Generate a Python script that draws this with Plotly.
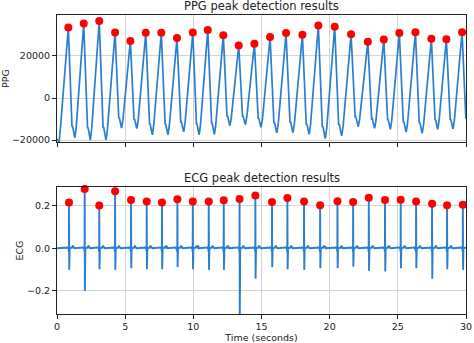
import numpy as np
import plotly.graph_objects as go

# ---- PPG: detected peaks (time in s, amplitude) and the trough that follows each peak
ppg_peak_t = [0.83, 1.96, 3.10, 4.26, 5.38, 6.51, 7.65, 8.80, 9.96, 11.06, 12.20, 13.33, 14.48,
              15.63, 16.80, 18.00, 19.17, 20.37, 21.57, 22.80, 23.97, 25.11, 26.29, 27.46, 28.56, 29.71]
ppg_peak_v = [33500, 35400, 36700, 31200, 27100, 31000, 31000, 28500, 31200, 32400, 29900, 25000, 25800,
              29000, 30900, 30100, 34500, 33900, 30400, 26800, 27900, 30900, 31300, 28200, 28000, 31300]
ppg_trough_v = [-19000, -20000, -20000, -14300, -14600, -17500, -17500, -16200, -17500, -17300, -13200, -12700, -14000,
                -16600, -16500, -17300, -19300, -18000, -13700, -14400, -14900, -16300, -16800, -14900, -14700, -14400]
ppg_start_v = [-19500, -20800]

# ---- ECG: R-peak times, R amplitudes and S-wave depths
ecg_peak_t = [0.88, 2.03, 3.10, 4.26, 5.43, 6.58, 7.70, 8.83, 9.96, 11.13, 12.23, 13.39, 14.55,
              15.77, 16.90, 18.12, 19.30, 20.57, 21.72, 22.87, 24.06, 25.21, 26.34, 27.51, 28.61, 29.77]
ecg_peak_v = [0.215, 0.279, 0.201, 0.268, 0.227, 0.220, 0.216, 0.231, 0.220, 0.220, 0.226, 0.232, 0.249,
              0.218, 0.237, 0.220, 0.202, 0.221, 0.218, 0.238, 0.227, 0.229, 0.220, 0.210, 0.202, 0.205]
ecg_s_v = [-0.102, -0.201, -0.099, -0.102, -0.094, -0.099, -0.099, -0.089, -0.099, -0.102, -0.102, -0.330, -0.144,
           -0.089, -0.099, -0.102, -0.094, -0.094, -0.087, -0.106, -0.110, -0.094, -0.094, -0.144, -0.099, -0.102]
# small baseline artefacts (time, amplitude)
ecg_art_t = [8.05, 10.37, 12.57, 19.70, 20.80]
ecg_art_v = [0.012, 0.014, 0.012, 0.010, 0.010]

T_END = 30.0


def ppg_waveform():
    """Piecewise beat shape: sharp top, quick fall, dicrotic shoulder, trough, slower upstroke."""
    kt = [0.0, 0.15]
    kv = list(ppg_start_v)
    n = len(ppg_peak_t)
    for i in range(n):
        tp, P, T = ppg_peak_t[i], ppg_peak_v[i], ppg_trough_v[i]
        d = (ppg_peak_t[i + 1] - tp) if i + 1 < n else 1.15
        A = P - T
        if i == 0:
            P0 = P
            T0 = kv[-1]
            kt += [tp - 0.55 * d, tp - 0.07 * d]
            kv += [T0 + 0.05 * (P0 - T0), P0 - 0.12 * (P0 - T0)]
        kt += [tp, tp + 0.04 * d, tp + 0.20 * d, tp + 0.24 * d, tp + 0.28 * d, tp + 0.36 * d, tp + 0.42 * d]
        kv += [P, P - 0.15 * A, T + 0.13 * A, T + 0.10 * A, T + 0.11 * A, T + 0.04 * A, T]
        if i + 1 < n:
            Pn = ppg_peak_v[i + 1]
            kt += [tp + 0.49 * d, tp + 0.93 * d]
            kv += [T + 0.05 * (Pn - T), Pn - 0.12 * (Pn - T)]
    t = np.arange(0.0, T_END + 1e-9, 0.01)
    return t, np.interp(t, kt, kv)


def ecg_waveform():
    """P wave, QRS complex and T wave placed at each R-peak."""
    kt, kv = [0.0], [0.0]
    for tr, R, S in zip(ecg_peak_t, ecg_peak_v, ecg_s_v):
        offs = [-0.17, -0.13, -0.09, -0.03, -0.014, -0.006, 0.0, 0.008, 0.016, 0.028, 0.045, 0.20, 0.28, 0.36]
        vals = [0.0, 0.007, 0.0, 0.0, -0.016, 0.012, R, 0.0, S, 0.014, 0.0, 0.0, 0.012, 0.0]
        kt += [tr + o for o in offs]
        kv += vals
    for ta, va in zip(ecg_art_t, ecg_art_v):
        kt += [ta - 0.01, ta, ta + 0.01]
        kv += [0.0, va, 0.0]
    order = np.argsort(kt)
    kt = np.asarray(kt)[order]
    kv = np.asarray(kv)[order]
    t = np.arange(0.0, T_END + 1e-9, 0.002)
    return t, np.interp(t, kt, kv)


ppg_t, ppg_v = ppg_waveform()
ecg_t, ecg_v = ecg_waveform()

LINE = "#2a7fd0"
DOT = "#ff0000"
FONT = "DejaVu Sans"

fig = go.Figure()
fig.add_trace(go.Scatter(x=ppg_t, y=ppg_v, mode="lines", line=dict(color=LINE, width=1.7),
                         xaxis="x", yaxis="y", showlegend=False, hoverinfo="skip"))
fig.add_trace(go.Scatter(x=ppg_peak_t, y=ppg_peak_v, mode="markers",
                         marker=dict(color=DOT, size=8, line=dict(width=0)),
                         xaxis="x", yaxis="y", showlegend=False, cliponaxis=False))
fig.add_trace(go.Scatter(x=ecg_t, y=ecg_v, mode="lines", line=dict(color=LINE, width=1.9),
                         xaxis="x2", yaxis="y2", showlegend=False, hoverinfo="skip"))
fig.add_trace(go.Scatter(x=ecg_peak_t, y=ecg_peak_v, mode="markers",
                         marker=dict(color=DOT, size=8, line=dict(width=0)),
                         xaxis="x2", yaxis="y2", showlegend=False, cliponaxis=False))

axis_common = dict(showline=True, linecolor="#222222", linewidth=1, mirror=True,
                   ticks="outside", ticklen=4, tickwidth=1, tickcolor="#222222",
                   showgrid=True, gridcolor="#d4d4d4", gridwidth=1, zeroline=False,
                   automargin=False,
                   tickfont=dict(family=FONT, size=9.5, color="#222222"))

xticks = [0, 5, 10, 15, 20, 25, 30]
fig.update_layout(
    width=474, height=343,
    margin=dict(l=57, r=8, t=15, b=29),
    paper_bgcolor="white", plot_bgcolor="white",
    font=dict(family=FONT, color="#222222"),
    xaxis=dict(domain=[0, 1], anchor="y", range=[0, 30], tickvals=xticks,
               showticklabels=False, **axis_common),
    xaxis2=dict(domain=[0, 1], anchor="y2", range=[0, 30], tickvals=xticks,
                ticktext=[str(v) for v in xticks],
                title=dict(text="Time (seconds)", standoff=3, font=dict(family=FONT, size=9.5)),
                **axis_common),
    yaxis=dict(domain=[0.575, 1], anchor="x", range=[-20950, 39500],
               tickvals=[-20000, 0, 20000], ticktext=["\u221220000", "0", "20000"],
               title=dict(text="PPG", standoff=6, font=dict(family=FONT, size=9.5)),
               **axis_common),
    yaxis2=dict(domain=[0, 0.4247], anchor="x2", range=[-0.31, 0.2885],
                tickvals=[-0.2, 0.0, 0.2], ticktext=["\u22120.2", "0.0", "0.2"],
                title=dict(text="ECG", standoff=1, font=dict(family=FONT, size=9.5)),
                **axis_common),
    annotations=[
        dict(text="PPG peak detection results", xref="paper", yref="paper", x=0.5, y=1,
             xanchor="center", yanchor="bottom", yshift=0, showarrow=False,
             font=dict(family=FONT, size=11.5, color="#222222")),
        dict(text="ECG peak detection results", xref="paper", yref="paper", x=0.5, y=0.4247,
             xanchor="center", yanchor="bottom", yshift=0, showarrow=False,
             font=dict(family=FONT, size=11.5, color="#222222")),
    ],
)

fig.write_html("out.html")
